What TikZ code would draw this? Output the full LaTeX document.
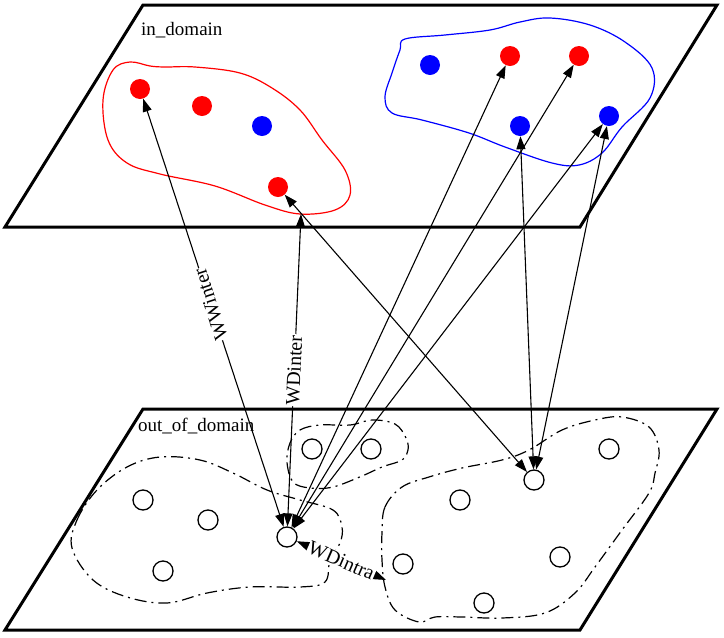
\documentclass[tikz,border=0pt]{standalone}
\usepackage{fontspec}
\setmainfont{Liberation Serif}
\usetikzlibrary{arrows.meta}
\begin{document}
\begin{tikzpicture}[x=1pt,y=-1pt,
 plane/.style={line width=3pt, line join=miter},
 rdot/.style={circle, fill=red, minimum size=20pt, inner sep=0pt},
 bdot/.style={circle, fill=blue, minimum size=20pt, inner sep=0pt},
 odot/.style={circle, draw, fill=white, line width=1.3pt, minimum size=20pt, inner sep=0pt},
 arr/.style={line width=1.1pt, {Triangle[length=13pt,width=9pt]}-{Triangle[length=13pt,width=9pt]}},
 lbl/.style={sloped, allow upside down, fill=white, inner sep=1pt, font=\fontsize{20}{22}\selectfont},
 ddash/.style={line width=1.2pt, dash pattern=on 12pt off 5pt on 2pt off 5pt},
 title/.style={anchor=base west, inner sep=0pt, font=\fontsize{19}{21}\selectfont},
 ]
\useasboundingbox (0,0) rectangle (724,638);
% planes
\draw[plane] (143,5) -- (717,5) -- (580,227) -- (5,227) -- cycle;
\draw[plane] (143,409) -- (717,409) -- (580,630) -- (5,630) -- cycle;
\node[title] (tin) at (141,35) {in\_domain};
\node[title] (tout) at (138,431) {out\_of\_domain};
% top blobs
\draw[red, line width=1.2pt] plot[smooth cycle, tension=0.6] coordinates {
 (103,100) (113,70) (130,62) (150,66) (165,67) (195,67) (240,73) (272,88) (300,110) (322,140)
 (345,170) (350,195) (335,210) (300,214) (265,205) (215,186) (160,174) (127,163) (108,140)};
\draw[blue, line width=1.2pt] plot[smooth cycle, tension=0.6] coordinates {
 (405,39) (445,35) (490,30) (520,22) (550,18) (590,25) (625,42) (652,68) (650,98) (622,127)
 (602,153) (579,165) (552,163) (505,147) (469,133) (422,120) (392,113) (385,97) (392,73) (400,50)};
% bottom blobs
\draw[ddash] plot[smooth cycle, tension=0.6] coordinates {
 (72,548) (77,520) (97,490) (127,467) (160,457) (200,460) (233,473) (267,490) (300,500) (333,510)
 (342,527) (340,543) (330,560) (325,582) (300,587) (250,587) (207,593) (167,603) (127,597) (93,580)};
\draw[ddash] plot[smooth cycle, tension=0.6] coordinates {
 (290,443) (300,430) (320,425) (350,425) (372,420) (395,424) (406,438) (408,450) (402,460)
 (382,467) (362,476) (333,487) (310,488) (293,482) (287,462)};
\draw[ddash] plot[smooth cycle, tension=0.6] coordinates {
 (382,533) (385,507) (402,487) (429,477) (462,468) (502,460) (529,450) (562,430) (595,420)
 (622,417) (649,427) (659,450) (655,473) (649,493) (622,530) (595,567) (575,593) (545,613)
 (502,618) (462,617) (435,617) (419,622) (395,610) (385,587) (382,560)};
% top dots
\node[rdot] (r1) at (140,89) {};
\node[rdot] (r2) at (202,106) {};
\node[bdot] (bl1) at (262,126) {};
\node[rdot] (r3) at (278,187) {};
\node[bdot] (bl2) at (430,65) {};
\node[rdot] (r4) at (510,56) {};
\node[rdot] (r5) at (579,56) {};
\node[bdot] (bl3) at (520,126) {};
\node[bdot] (bl4) at (609,116) {};
% bottom circles
\node[odot] (o1) at (143,500) {};
\node[odot] (o2) at (208,520) {};
\node[odot] (o3) at (163,571) {};
\node[odot] (o4) at (287,537) {};
\node[odot] (o5) at (312,449) {};
\node[odot] (o6) at (371,449) {};
\node[odot] (o7) at (609,449) {};
\node[odot] (o8) at (534,480) {};
\node[odot] (o9) at (460,500) {};
\node[odot] (o10) at (403,564) {};
\node[odot] (o11) at (560,557) {};
\node[odot] (o12) at (484,603) {};
\coordinate (cr) at (301,214);
\coordinate (cb) at (386,580);
% connectors
\draw[arr] (o4) -- node[lbl, pos=0.52]{WWinter} (r1);
\draw[arr] (o4) -- node[lbl, pos=0.5]{WDinter} (cr);
\draw[arr] (o4) -- (r4);
\draw[arr] (o4) -- (r5);
\draw[arr] (o4) -- (bl4);
\draw[arr] (o4) -- node[lbl]{WDintra} (cb);
\draw[arr] (r3) -- (o8);
\draw[arr] (o8) -- (bl3);
\draw[arr] (o8) -- (bl4);
\end{tikzpicture}
\end{document}
